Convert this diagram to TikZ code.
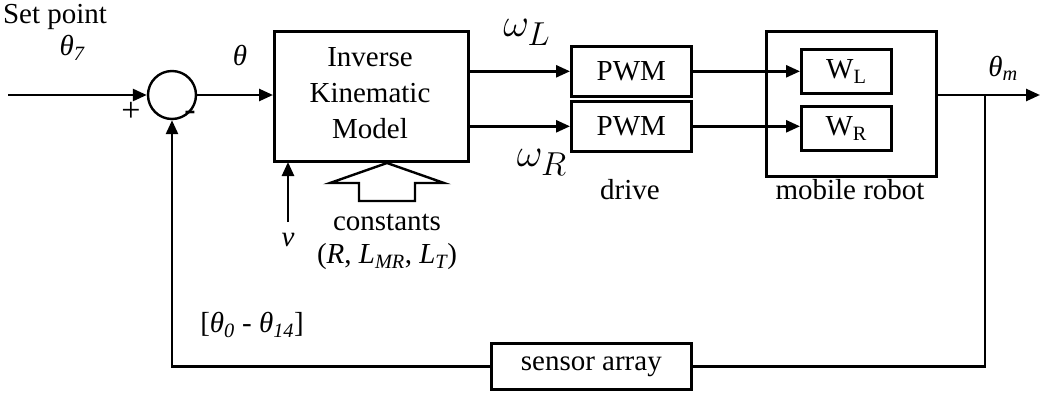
\documentclass[tikz,border=0pt]{standalone}
\usepackage{fontspec}
\setmainfont{Liberation Serif}
\usetikzlibrary{arrows.meta}
\newcommand{\gi}[1]{{\itshape #1}}
\begin{document}
\begin{tikzpicture}[x=1pt,y=-1pt,
  line width=2.6pt,
  every node/.style={font=\fontsize{29}{32}\selectfont, inner sep=0pt},
  blk/.style={draw, line width=2.6pt, anchor=north west},
  arr/.style={-{Triangle[length=14pt,width=12pt]}}]
\useasboundingbox (0,0) rectangle (1042,405);
% labels
\node (sp) at (55,17) {Set point};
\node (t7) at (72,48) {\gi{θ}\textsubscript{\gi{7}}};
\coordinate (in) at (8,95);
\node[draw, circle, minimum size=48pt, line width=2.4pt] (sum) at (172,95) {};
\node[font=\fontsize{34}{34}\selectfont] (plus) at (131,112) {+};
\node[font=\fontsize{34}{34}\selectfont] (minus) at (190,116) {-};
\node (th) at (240,55) {\gi{θ}};
\node[blk, minimum width=194pt, minimum height=130pt] (ik) at (273,30) {};
\node[align=center, font=\fontsize{29}{36}\selectfont] (iktext) at (370,93) {Inverse\\Kinematic\\Model};
\draw[arr] (in) -- (sum.west);
\draw[arr] (sum.east) -- (ik.west |- sum.east);
% v
\coordinate (vs) at (288,222);
\coordinate (ve) at (288,162);
\draw[arr] (vs) -- (ve);
\node (v) at (288,240) {\gi{v}};
% big hollow arrow
\coordinate (ca) at (387,163);
\draw[line width=2.4pt, line join=miter] (ca) -- ++(57,20) -- ++(-29,0) -- ++(0,18) -- ++(-56,0) -- ++(0,-18) -- ++(-29,0) -- cycle;
\node (const) at (387,222) {constants};
\node (cvals) at (387,257) {(\gi{R}, \gi{L}\textsubscript{\gi{MR}}, \gi{L}\textsubscript{\gi{T}})};
% PWM
\node[blk, minimum width=120pt, minimum height=50pt] (p1) at (570,45) {};
\node at (p1.center) {PWM};
\node[blk, minimum width=120pt, minimum height=50pt] (p2) at (570,100) {};
\node at (p2.center) {PWM};
\node (drive) at (630,190) {drive};
\draw[arr] (ik.east |- p1.west) -- (p1.west);
\draw[arr] (ik.east |- p2.west) -- (p2.west);
\node (wl) at (527,32) {\scalebox{1.6}{$\omega_L$}};
\node (wr) at (542,162) {\scalebox{1.6}{$\omega_R$}};
% robot
\node[blk, minimum width=170pt, minimum height=145pt] (rob) at (765,30) {};
\node[blk, minimum width=90pt, minimum height=44pt] (bl) at (800,48) {};
\node at (bl.center) {W\textsubscript{L}};
\node[blk, minimum width=90pt, minimum height=44pt] (br) at (800,105) {};
\node at (br.center) {W\textsubscript{R}};
\node (mr) at (850,190) {mobile robot};
\draw[arr] (p1.east) -- (p1.east -| bl.west);
\draw[arr] (p2.east) -- (p2.east -| br.west);
% output
\coordinate (out) at (1040,95);
\coordinate (tap) at (985,95);
\draw[arr] (rob.east |- out) -- (out);
\node (thm) at (1003,68) {\gi{θ}\textsubscript{\gi{m}}};
% feedback
\node[blk, minimum width=200pt, minimum height=46pt] (sa) at (490,342) {};
\node at (sa.center) {sensor array};
\draw (tap) |- (sa.east);
\draw[arr] (sa.west) -| (sum.south);
\node (fb) at (252,325) {[\gi{θ}\textsubscript{\gi{0}} - \gi{θ}\textsubscript{\gi{14}}]};
\end{tikzpicture}
\end{document}
